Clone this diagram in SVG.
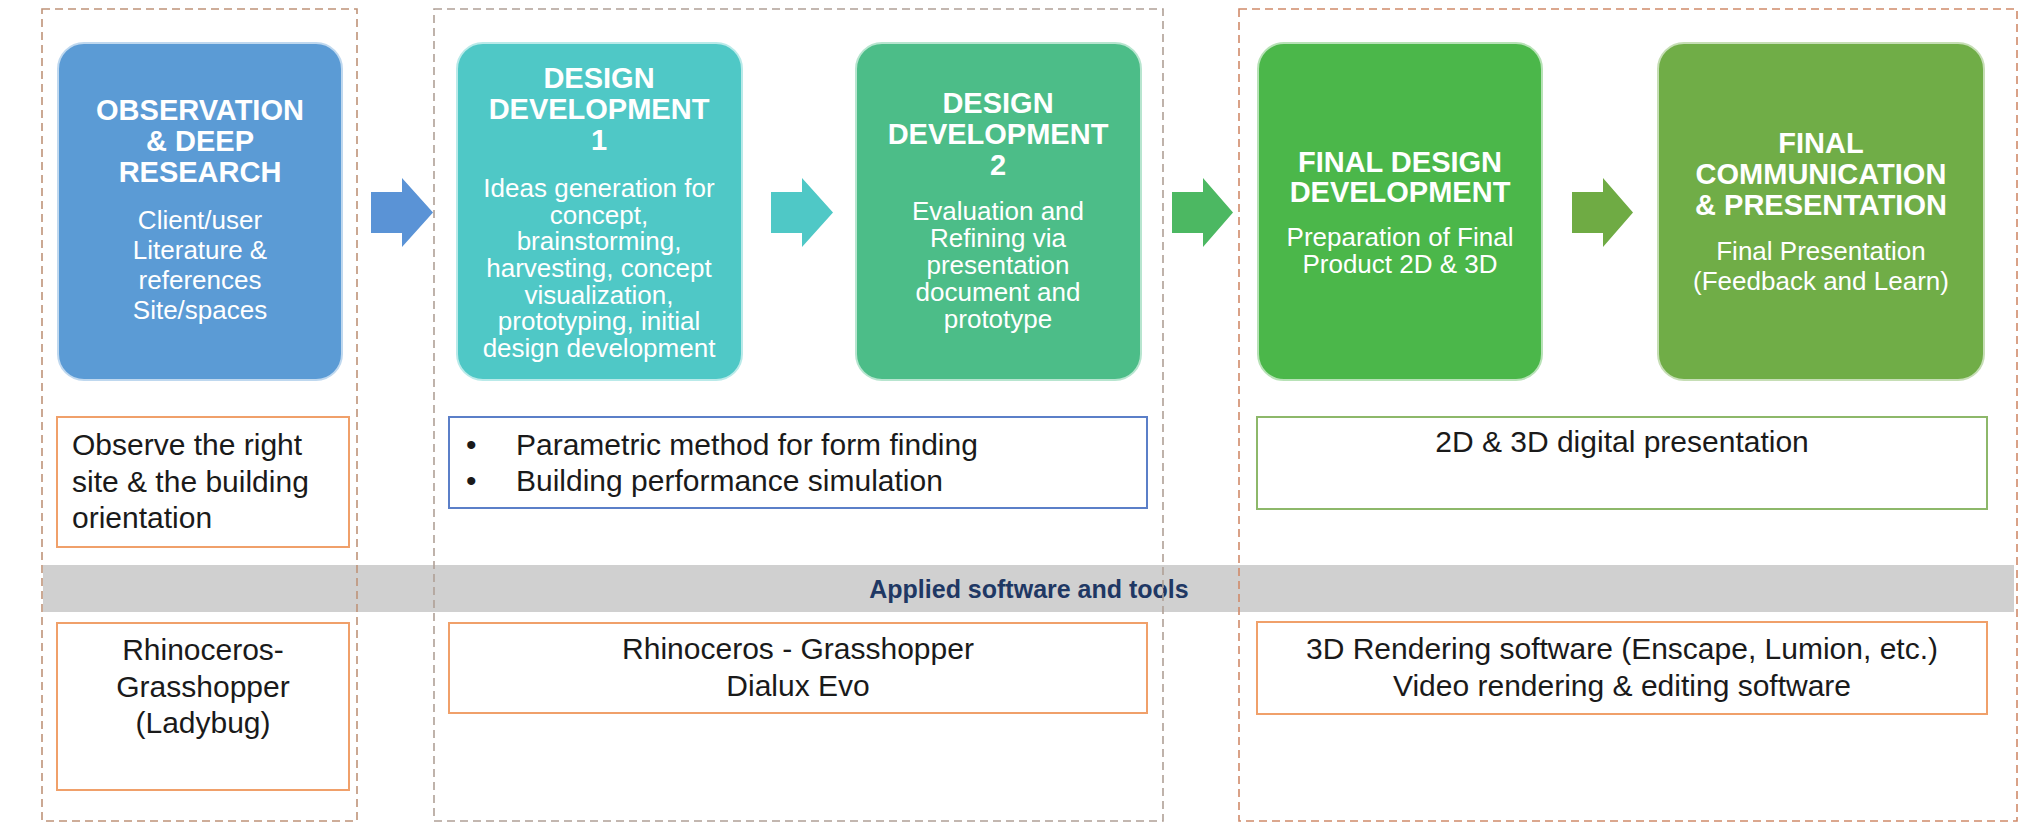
<svg xmlns="http://www.w3.org/2000/svg" width="2040" height="825" viewBox="0 0 2040 825">
<style>
.frame{fill:none;stroke:#BF9378;stroke-width:1.6;stroke-dasharray:8 5}
.node rect{stroke-width:2}
.title{font-family:"Liberation Sans",Arial,sans-serif;font-weight:bold;font-size:29px;fill:#fff;text-anchor:middle}
.body{font-family:"Liberation Sans",Arial,sans-serif;font-size:26px;fill:#fff;text-anchor:middle}
.wt{font-family:"Liberation Sans",Arial,sans-serif;font-size:30px;fill:#1a1a1a}
.mid{text-anchor:middle}
.band{font-family:"Liberation Sans",Arial,sans-serif;font-weight:bold;font-size:25px;fill:#1F3864;text-anchor:middle}
.wbox{fill:#fff;stroke-width:2}
</style>
<rect x="0" y="0" width="2040" height="825" fill="#fff"/>
<rect id="band" x="43" y="565" width="1971" height="47" fill="#D0D0D0"/>
<text class="band" x="1029" y="598">Applied software and tools</text>
<g id="frames">
<rect class="frame" x="42" y="9" width="315" height="812"/>
<rect class="frame" x="434" y="9" width="729" height="812" style="stroke:#B0A096"/>
<rect class="frame" x="1239" y="9" width="778" height="812" style="stroke:#D08A6A"/>
</g>
<g id="connectors">
<polygon points="371,192 402,192 402,178 433,212.5 402,247 402,233 371,233" fill="#5A93D6"/>
<polygon points="771,192 802,192 802,178 833,212.5 802,247 802,233 771,233" fill="#4FC8C6"/>
<polygon points="1172,192 1203,192 1203,178 1233,212.5 1203,247 1203,233 1172,233" fill="#4CB862"/>
<polygon points="1572,192 1603,192 1603,178 1633,212.5 1603,247 1603,233 1572,233" fill="#6FAB44"/>
</g>
<g id="n1" class="node">
<rect x="58" y="43" width="284" height="337" rx="26" fill="#5B9BD5" stroke="#BFD8EF"/>
<text class="title"><tspan x="200" y="120">OBSERVATION</tspan><tspan x="200" y="151">&amp; DEEP</tspan><tspan x="200" y="182">RESEARCH</tspan></text>
<text class="body"><tspan x="200" y="229">Client/user</tspan><tspan x="200" y="259">Literature &amp;</tspan><tspan x="200" y="289">references</tspan><tspan x="200" y="319">Site/spaces</tspan></text>
</g>
<g id="n2" class="node">
<rect x="457" y="43" width="285" height="337" rx="26" fill="#4FC8C6" stroke="#B9EAE9"/>
<text class="title"><tspan x="599" y="88">DESIGN</tspan><tspan x="599" y="119">DEVELOPMENT</tspan><tspan x="599" y="150">1</tspan></text>
<text class="body"><tspan x="599" y="197">Ideas generation for</tspan><tspan x="599" y="224">concept,</tspan><tspan x="599" y="250">brainstorming,</tspan><tspan x="599" y="277">harvesting, concept</tspan><tspan x="599" y="304">visualization,</tspan><tspan x="599" y="330">prototyping, initial</tspan><tspan x="599" y="357">design development</tspan></text>
</g>
<g id="n3" class="node">
<rect x="856" y="43" width="285" height="337" rx="26" fill="#4CBD88" stroke="#B7E5CF"/>
<text class="title"><tspan x="998" y="113">DESIGN</tspan><tspan x="998" y="144">DEVELOPMENT</tspan><tspan x="998" y="175">2</tspan></text>
<text class="body"><tspan x="998" y="220">Evaluation and</tspan><tspan x="998" y="247">Refining via</tspan><tspan x="998" y="274">presentation</tspan><tspan x="998" y="301">document and</tspan><tspan x="998" y="328">prototype</tspan></text>
</g>
<g id="n4" class="node">
<rect x="1258" y="43" width="284" height="337" rx="26" fill="#4BB74A" stroke="#B7E2B6"/>
<text class="title"><tspan x="1400" y="172">FINAL DESIGN</tspan><tspan x="1400" y="202">DEVELOPMENT</tspan></text>
<text class="body"><tspan x="1400" y="246">Preparation of Final</tspan><tspan x="1400" y="273">Product 2D &amp; 3D</tspan></text>
</g>
<g id="n5" class="node">
<rect x="1658" y="43" width="326" height="337" rx="26" fill="#70AD47" stroke="#C6DEB5"/>
<text class="title"><tspan x="1821" y="153">FINAL</tspan><tspan x="1821" y="184">COMMUNICATION</tspan><tspan x="1821" y="215">&amp; PRESENTATION</tspan></text>
<text class="body"><tspan x="1821" y="260">Final Presentation</tspan><tspan x="1821" y="290">(Feedback and Learn)</tspan></text>
</g>
<g id="b1" class="node">
<rect class="wbox" x="57" y="417" width="292" height="130" stroke="#F0A06A"/>
<text class="wt"><tspan x="72" y="455">Observe the right</tspan><tspan x="72" y="492">site &amp; the building</tspan><tspan x="72" y="528">orientation</tspan></text>
</g>
<g id="b2" class="node">
<rect class="wbox" x="449" y="417" width="698" height="91" stroke="#5B7FC8"/>
<text class="wt"><tspan x="466" y="455">•</tspan><tspan x="516" y="455">Parametric method for form finding</tspan><tspan x="466" y="491">•</tspan><tspan x="516" y="491">Building performance simulation</tspan></text>
</g>
<g id="b3" class="node">
<rect class="wbox" x="1257" y="417" width="730" height="92" stroke="#8DB86A"/>
<text class="wt mid" x="1622" y="452">2D &amp; 3D digital presentation</text>
</g>
<g id="s1" class="node">
<rect class="wbox" x="57" y="623" width="292" height="167" stroke="#F0A06A"/>
<text class="wt mid"><tspan x="203" y="660">Rhinoceros-</tspan><tspan x="203" y="697">Grasshopper</tspan><tspan x="203" y="733">(Ladybug)</tspan></text>
</g>
<g id="s2" class="node">
<rect class="wbox" x="449" y="623" width="698" height="90" stroke="#F0A06A"/>
<text class="wt mid"><tspan x="798" y="659">Rhinoceros - Grasshopper</tspan><tspan x="798" y="696">Dialux Evo</tspan></text>
</g>
<g id="s3" class="node">
<rect class="wbox" x="1257" y="622" width="730" height="92" stroke="#F0A06A"/>
<text class="wt mid"><tspan x="1622" y="659">3D Rendering software (Enscape, Lumion, etc.)</tspan><tspan x="1622" y="696">Video rendering &amp; editing software</tspan></text>
</g>
</svg>
